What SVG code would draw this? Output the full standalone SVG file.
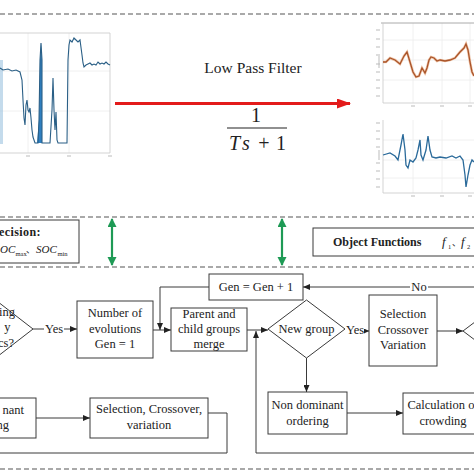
<svg xmlns="http://www.w3.org/2000/svg" width="474" height="474" viewBox="0 0 474 474">
<defs>
<style>
.box{fill:#fff;stroke:#3a3a3a;stroke-width:1}
.t{font-family:"Liberation Serif","Times New Roman",serif;font-size:12.5px;fill:#222;text-anchor:middle}
.tb{font-family:"Liberation Serif","Times New Roman",serif;font-size:12px;font-weight:bold;fill:#222}
.ti{font-family:"Liberation Serif","Times New Roman",serif;font-style:italic;fill:#222}
.sub{font-family:"Liberation Serif","Times New Roman",serif;font-size:6.5px;fill:#222}
.conn{stroke:#3a3a3a;stroke-width:1;fill:none}
.dash{stroke:#555;stroke-width:1.2;stroke-dasharray:5 3;fill:none}
.grid{stroke:#ececec;stroke-width:0.8;fill:none}
.frame{stroke:#c8c8c8;stroke-width:0.8;fill:none}
.tick{stroke:#bbb;stroke-width:1;fill:none}
.green{stroke:#1e9a55;stroke-width:2.2;fill:none}
</style>
<marker id="ah" markerUnits="userSpaceOnUse" markerWidth="8" markerHeight="6" refX="7" refY="3" orient="auto">
<path d="M0,0 L7,3 L0,6 z" fill="#222"/>
</marker>
<marker id="ahs" markerUnits="userSpaceOnUse" markerWidth="6" markerHeight="5" refX="5" refY="2.5" orient="auto">
<path d="M0,0 L5,2.5 L0,5 z" fill="#222"/>
</marker>
<marker id="gh" markerUnits="userSpaceOnUse" markerWidth="10" markerHeight="10" refX="8" refY="4.5" orient="auto-start-reverse">
<path d="M0,0 L9,4.5 L0,9 z" fill="#1e9a55"/>
</marker>
<marker id="rh" markerUnits="userSpaceOnUse" markerWidth="14" markerHeight="10" refX="13" refY="5" orient="auto">
<path d="M0,0 L14,5 L0,10 z" fill="#e31b1b"/>
</marker>
</defs>
<rect width="474" height="474" fill="#fff"/>

<!-- section dividers -->
<g id="dividers">
<line class="dash" x1="0" y1="14" x2="474" y2="14"/>
<line class="dash" x1="0" y1="217" x2="474" y2="217"/>
<line class="dash" x1="0" y1="267" x2="474" y2="267"/>
<line class="dash" x1="0" y1="469" x2="474" y2="469"/>
</g>

<!-- left chart -->
<g id="chart-left">
<line class="grid" x1="28" y1="33" x2="28" y2="153"/>
<line class="grid" x1="69" y1="33" x2="69" y2="153"/>
<line class="grid" x1="0" y1="71" x2="110" y2="71"/>
<line class="grid" x1="0" y1="111" x2="110" y2="111"/>
<line class="frame" x1="0" y1="33" x2="110" y2="33"/>
<line class="frame" x1="110" y1="33" x2="110" y2="153"/>
<line class="frame" x1="0" y1="153" x2="110" y2="153"/>
<line class="tick" x1="26" y1="156" x2="30" y2="156"/>
<line class="tick" x1="67" y1="156" x2="71" y2="156"/>
<line class="tick" x1="108" y1="156" x2="112" y2="156"/>
<rect x="0" y="60" width="3" height="84" fill="#9cc3e0" opacity="0.6"/>
<path d="M37,143 L39,120 L40,60 L41,43 L42,60 L42,143 Z" fill="#2f7fc0"/>
<polyline fill="none" stroke="#2a5f86" stroke-width="1.1" points="0,68 3,70 8,69 12,71 16,70 20,72 22,80 23,100 24,118 25,125 26,105 27,100 28,110 29,112 30,108 31,118 32,130 33,137 35,143 38,143 39,120 40,60 41,43 42,60 42,143 45,143 50,143 52,110 53,78 54,110 55,130 56,112 57,140 58,143 67,143 68,60 69,45 70,40 72,42 74,38 76,40 78,42 80,40 82,55 83,63 84,67 86,65 88,64 90,63 92,65 94,64 96,65 98,62 100,64 102,63 104,64 106,62 108,64 110,65"/>
</g>

<!-- filter arrow -->
<g id="filter">
<line x1="115" y1="103.5" x2="350" y2="103.5" stroke="#e31b1b" stroke-width="3" marker-end="url(#rh)"/>
<text x="253" y="73" font-family="Liberation Serif, Times New Roman, serif" font-size="15.5" fill="#222" text-anchor="middle">Low Pass Filter</text>
<text x="256" y="122" font-family="Liberation Serif, Times New Roman, serif" font-size="20" fill="#222" text-anchor="middle">1</text>
<line x1="227" y1="128" x2="287" y2="128" stroke="#222" stroke-width="1.2"/>
<text class="ti" x="229" y="150" font-size="20">T</text>
<text class="ti" x="242" y="150" font-size="20">s</text>
<text x="264" y="150" font-family="Liberation Serif, Times New Roman, serif" font-size="20" fill="#222" text-anchor="middle">+</text>
<text x="281" y="150" font-family="Liberation Serif, Times New Roman, serif" font-size="20" fill="#222" text-anchor="middle">1</text>
</g>

<!-- right charts -->
<g id="chart-right-top">
<line class="grid" x1="413" y1="23" x2="413" y2="103"/>
<line class="grid" x1="442" y1="23" x2="442" y2="103"/>
<line class="grid" x1="470" y1="23" x2="470" y2="103"/>
<line class="grid" x1="383" y1="40" x2="474" y2="40"/>
<line class="grid" x1="383" y1="60" x2="474" y2="60"/>
<line class="grid" x1="383" y1="80" x2="474" y2="80"/>
<line x1="381" y1="23" x2="474" y2="23" stroke="#aaa" stroke-width="1"/>
<line class="frame" x1="383" y1="23" x2="383" y2="103"/>
<line class="frame" x1="383" y1="103" x2="474" y2="103"/>
<g class="tick"><line x1="376" y1="30" x2="380" y2="30"/><line x1="376" y1="39" x2="380" y2="39"/><line x1="376" y1="47" x2="380" y2="47"/><line x1="376" y1="55" x2="380" y2="55"/><line x1="376" y1="64" x2="380" y2="64"/><line x1="376" y1="72" x2="380" y2="72"/><line x1="376" y1="80" x2="380" y2="80"/><line x1="376" y1="88" x2="380" y2="88"/><line x1="376" y1="96" x2="380" y2="96"/><line x1="379" y1="56" x2="379" y2="68"/><line x1="411" y1="106" x2="415" y2="106"/><line x1="440" y1="106" x2="444" y2="106"/><line x1="468" y1="106" x2="472" y2="106"/></g>
<polyline fill="none" stroke="#e8a070" stroke-width="2.6" opacity="0.6" points="383,62 386,62 390,58 395,60 400,64 404,56 407,52 410,62 413,72 416,77 419,76 422,68 425,73 427,68 429,60 431,57 434,58 437,61 440,60 445,61 450,60 455,58 460,52 464,48 466,44 468,50 470,62 472,72 474,76"/>
<polyline fill="none" stroke="#a9542a" stroke-width="1.3" points="383,62 386,62 390,58 395,60 400,64 404,56 407,52 410,62 413,72 416,77 419,76 422,68 425,73 427,68 429,60 431,57 434,58 437,61 440,60 445,61 450,60 455,58 460,52 464,48 466,44 468,50 470,62 472,72 474,76"/>
</g>
<g id="chart-right-bottom">
<line class="grid" x1="413" y1="120" x2="413" y2="193"/>
<line class="grid" x1="442" y1="120" x2="442" y2="193"/>
<line class="grid" x1="383" y1="140" x2="474" y2="140"/>
<line class="grid" x1="383" y1="160" x2="474" y2="160"/>
<line class="grid" x1="383" y1="178" x2="474" y2="178"/>
<line class="frame" x1="383" y1="120" x2="383" y2="193"/>
<line class="frame" x1="383" y1="193" x2="474" y2="193"/>
<g class="tick"><line x1="376" y1="123" x2="380" y2="123"/><line x1="376" y1="131" x2="380" y2="131"/><line x1="376" y1="139" x2="380" y2="139"/><line x1="376" y1="147" x2="380" y2="147"/><line x1="376" y1="163" x2="380" y2="163"/><line x1="376" y1="171" x2="380" y2="171"/><line x1="376" y1="179" x2="380" y2="179"/><line x1="376" y1="187" x2="380" y2="187"/><line x1="379" y1="150" x2="379" y2="160"/><line x1="411" y1="196" x2="415" y2="196"/><line x1="440" y1="196" x2="444" y2="196"/><line x1="468" y1="196" x2="472" y2="196"/></g>
<polyline fill="none" stroke="#2a6a9a" stroke-width="1.3" points="383,155 390,153 395,156 398,160 401,145 403,134 405,150 406,165 408,168 410,160 413,162 416,158 418,150 420,140 421,155 423,160 426,150 428,136 430,150 432,157 436,158 440,157 446,158 452,156 456,158 460,156 463,160 465,175 466,187 468,175 470,165 472,160 474,162"/>
</g>

<!-- middle section -->
<g id="decision">
<rect class="box" x="-2" y="220" width="81" height="43"/>
<text class="tb" x="-1" y="236" letter-spacing="0.4">ecision:</text>
<text class="ti" x="0" y="253" font-size="11">OC</text>
<text class="sub" x="15.5" y="256">max</text>
<text x="26" y="253" font-family="Noto Sans CJK SC, sans-serif" font-size="9" fill="#222">、</text>
<text class="ti" x="36" y="253" font-size="11">SOC</text>
<text class="sub" x="57.5" y="256">min</text>
</g>
<g id="objective">
<rect class="box" x="313" y="228" width="170" height="28"/>
<text class="tb" x="333" y="246">Object Functions</text>
<text class="ti" x="442" y="246" font-size="13">f</text>
<text class="sub" x="448" y="249" font-size="7">1</text>
<text x="452" y="246" font-family="Noto Sans CJK SC, sans-serif" font-size="9" fill="#222">、</text>
<text class="ti" x="461" y="246" font-size="13">f</text>
<text class="sub" x="467" y="249" font-size="7">2</text>
</g>
<g id="links">
<line class="green" x1="112" y1="219" x2="112" y2="265" marker-start="url(#gh)" marker-end="url(#gh)"/>
<line class="green" x1="282" y1="219" x2="282" y2="265" marker-start="url(#gh)" marker-end="url(#gh)"/>
</g>

<!-- flowchart nodes -->
<g id="n-check">
<polygon class="box" points="-60,329 -13.5,293 33,329 -13.5,365"/>
<text class="t" x="15" y="316" style="text-anchor:end">ing</text>
<text class="t" x="10.5" y="331" style="text-anchor:end">y</text>
<text class="t" x="14" y="347" style="text-anchor:end">cs?</text>
</g>
<g id="n-number">
<rect class="box" x="77" y="301" width="76" height="57"/>
<text class="t" x="115" y="317">Number of</text>
<text class="t" x="115" y="333">evolutions</text>
<text class="t" x="115" y="348">Gen = 1</text>
</g>
<g id="n-genplus">
<rect class="box" x="209" y="274" width="94" height="26"/>
<text class="t" x="256" y="291">Gen = Gen + 1</text>
</g>
<g id="n-merge">
<rect class="box" x="171" y="308" width="76" height="43"/>
<text class="t" x="209" y="318">Parent and</text>
<text class="t" x="209" y="333">child groups</text>
<text class="t" x="209" y="348">merge</text>
</g>
<g id="n-newgroup">
<polygon class="box" points="268,329 306.5,300 345,329 306.5,358"/>
<text class="t" x="306.5" y="333">New group</text>
</g>
<g id="n-scv">
<rect class="box" x="369" y="295" width="68" height="71"/>
<text class="t" x="403" y="318">Selection</text>
<text class="t" x="403" y="334">Crossover</text>
<text class="t" x="403" y="349">Variation</text>
</g>
<g id="n-decide2">
<polygon class="box" points="463,331 500,303 537,331 500,359"/>
</g>
<g id="n-nondom">
<rect class="box" x="268" y="392" width="79" height="42"/>
<text class="t" x="307.5" y="409">Non dominant</text>
<text class="t" x="307.5" y="425">ordering</text>
</g>
<g id="n-crowd">
<rect class="box" x="403" y="393" width="80" height="41"/>
<text class="t" x="443" y="409">Calculation of</text>
<text class="t" x="443" y="425">crowding</text>
</g>
<g id="n-nondom2">
<rect class="box" x="-45" y="398" width="81" height="40"/>
<text class="t" x="24" y="414" style="text-anchor:end">nant</text>
<text class="t" x="9" y="429" style="text-anchor:end">ng</text>
</g>
<g id="n-scv2">
<rect class="box" x="90" y="398" width="118" height="40"/>
<text class="t" x="149" y="413">Selection, Crossover,</text>
<text class="t" x="149" y="429">variation</text>
</g>

<!-- connectors -->
<g id="connectors">
<line class="conn" x1="33" y1="329" x2="44" y2="329"/>
<text class="t" x="54" y="333">Yes</text>
<line class="conn" x1="64" y1="329" x2="77" y2="329" marker-end="url(#ah)"/>
<line class="conn" x1="153" y1="330" x2="171" y2="330" marker-end="url(#ah)"/>
<polyline class="conn" points="209,287 160,287 160,330" marker-end="url(#ah)"/>
<line class="conn" x1="247" y1="330" x2="268" y2="330" marker-end="url(#ah)"/>
<text class="t" x="355" y="334">Yes</text>
<line class="conn" x1="364.5" y1="331" x2="369" y2="331" marker-end="url(#ahs)"/>
<line class="conn" x1="437" y1="331" x2="463" y2="331" marker-end="url(#ah)"/>
<line class="conn" x1="474" y1="287" x2="428" y2="287"/>
<text class="t" x="419" y="291">No</text>
<line class="conn" x1="410" y1="287" x2="303" y2="287" marker-end="url(#ah)"/>
<line class="conn" x1="306.5" y1="358" x2="306.5" y2="392" marker-end="url(#ah)"/>
<line class="conn" x1="347" y1="413" x2="403" y2="413" marker-end="url(#ah)"/>
<line class="conn" x1="36" y1="418" x2="90" y2="418" marker-end="url(#ah)"/>
<polyline class="conn" points="208,413 227,413 227,453 0,453"/>
<polyline class="conn" points="474,453 256,453 256,331" marker-end="url(#ah)"/>
</g>
</svg>
